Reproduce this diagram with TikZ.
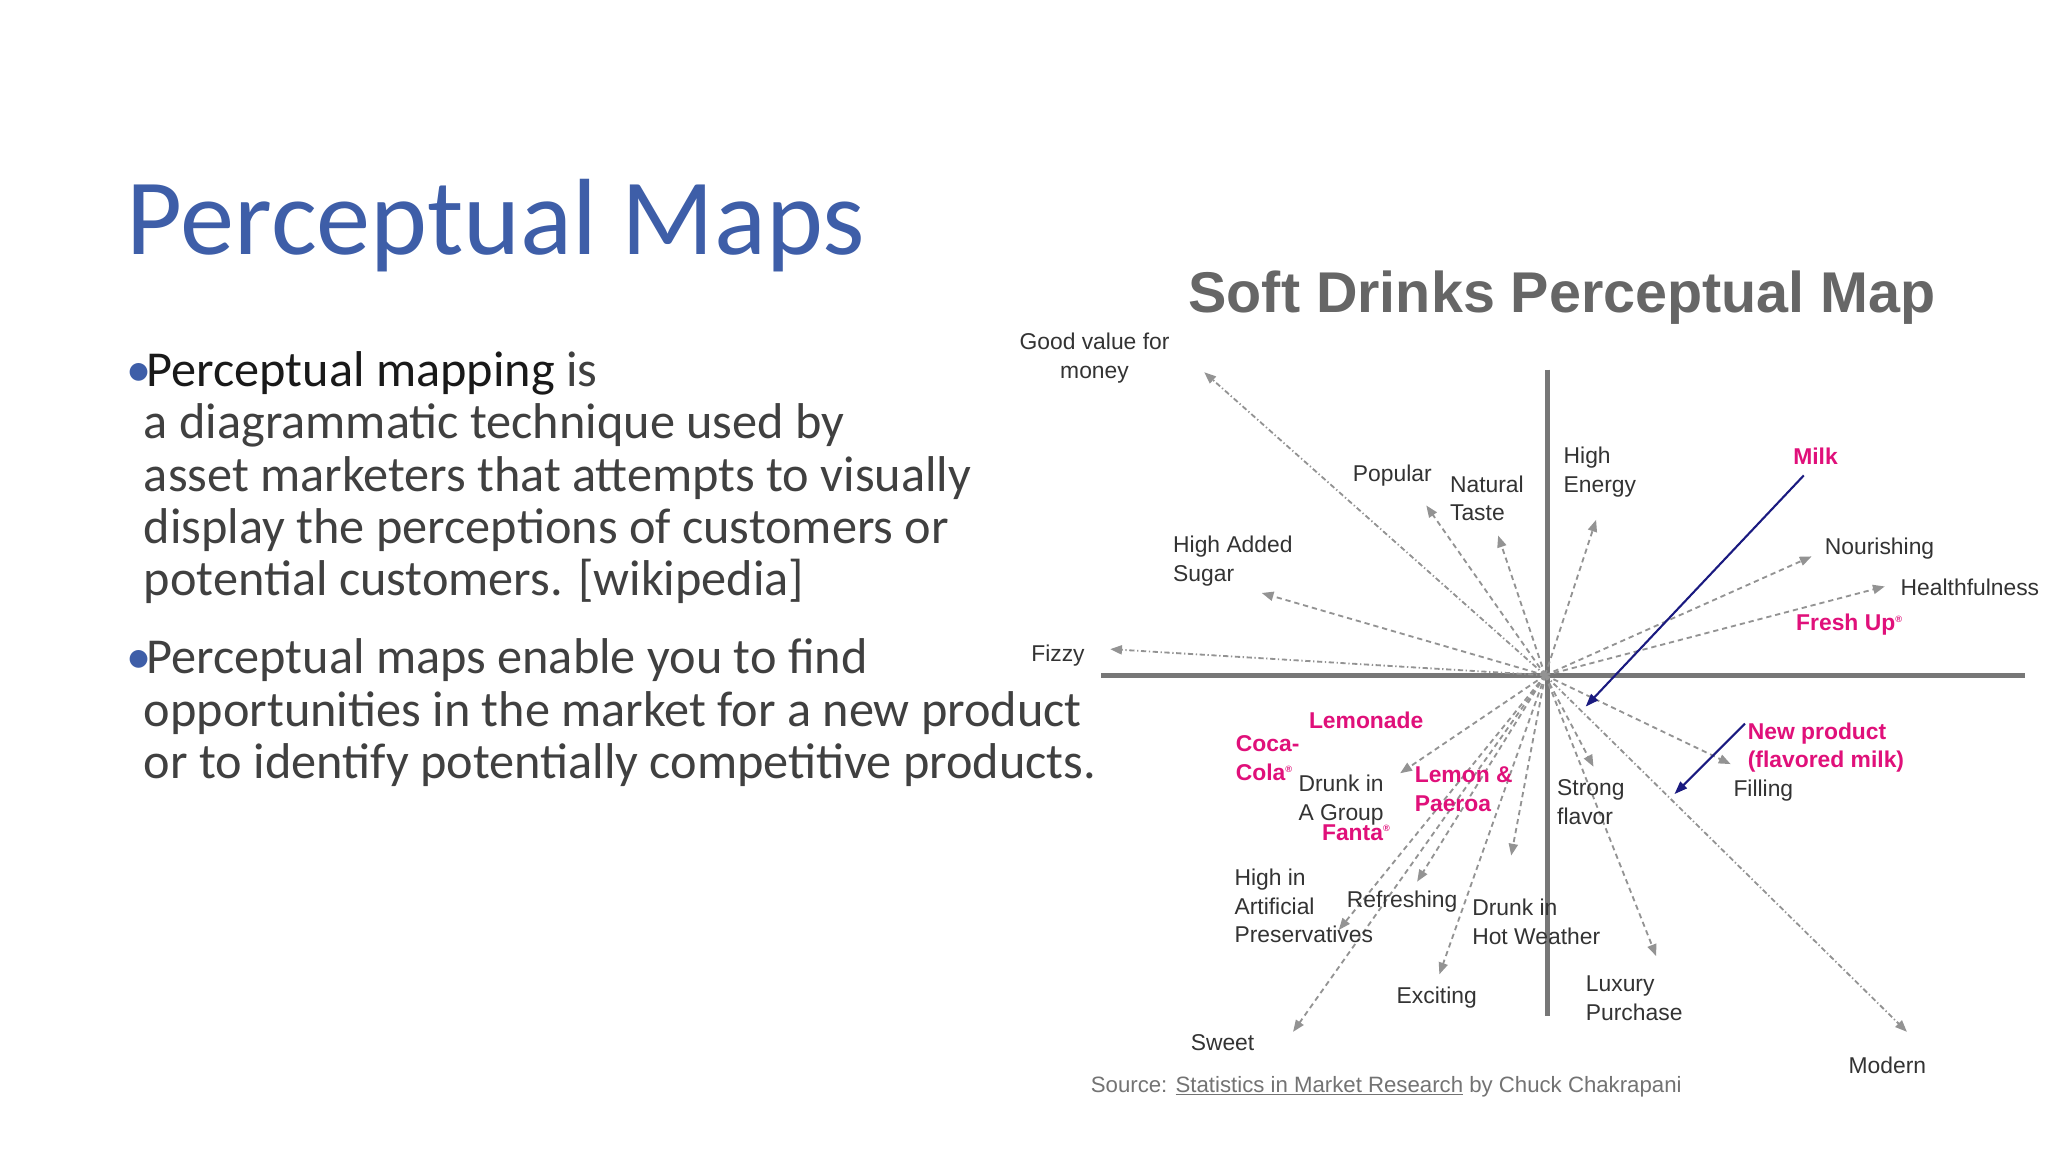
\documentclass[tikz,border=0pt]{standalone}
\usepackage{fontspec}
\setmainfont{Carlito}
\newfontfamily\arial{Liberation Sans}
\usetikzlibrary{arrows.meta}
\definecolor{ttl}{HTML}{3E5EA8}
\definecolor{mag}{HTML}{E0107A}
\definecolor{navy}{HTML}{1A1A80}
\definecolor{ax}{HTML}{777777}
\tikzset{
 vec/.style={draw=gray!85, line width=1.4pt, dash pattern=on 4pt off 3pt, -{Triangle[length=9pt,width=7pt]}},
 vecdd/.style={vec, dash pattern=on 4pt off 2pt on 1pt off 2pt},
 navarr/.style={draw=navy, line width=1.6pt, -{Triangle[length=10pt,width=7pt]}},
 lab/.style={font=\arial\fontsize{17.5}{22}\selectfont, text=black!80, inner sep=0pt, align=left, anchor=north west},
 mlab/.style={lab, text=mag, font=\arial\bfseries\fontsize{17.5}{22}\selectfont},
 body/.style={font=\fontsize{38.5}{40}\selectfont, inner sep=0pt, anchor=base west, text=black!75}
}
\begin{document}
\begin{tikzpicture}[x=1pt,y=-1pt]
\useasboundingbox[fill=white] (0,0) rectangle (1568,882);
\node[font=\fontsize{83}{83}\selectfont, text=ttl, inner sep=0pt, anchor=base west] (title) at (97,195) {Perceptual Maps};
\node[body, text=ttl] (b1) at (97,296) {\textbullet};
\node[body] (t1) at (112,296) {{\color{black!90}Perceptual mapping} is};
\node[body] (t1b) at (110,336) {a diagrammatic technique used by};
\node[body] (t1c) at (110,376) {asset marketers that attempts to visually};
\node[body] (t1d) at (110,416) {display the perceptions of customers or};
\node[body] (t1e) at (110,456) {potential customers. [wikipedia]};
\node[body, text=ttl] (b2) at (97,516) {\textbullet};
\node[body] (t2) at (112,516) {Perceptual maps enable you to find};
\node[body] (t2b) at (110,556) {opportunities in the market for a new product};
\node[body] (t2c) at (110,596) {or to identify potentially competitive products.};
% chart
\node[font=\arial\bfseries\fontsize{44}{46}\selectfont, text=black!60, inner sep=0pt] (ct) at (1196,228) {Soft Drinks Perceptual Map};
\coordinate (L) at (843,517); \coordinate (R) at (1550,517);
\coordinate (T) at (1185,283); \coordinate (B) at (1185,778);
\draw[ax, line width=4pt] (L) -- (R);
\draw[ax, line width=3.5pt] (T) -- (B);
\coordinate (O) at (1183,517);
\foreach \n/\p in {pop/{1092,387},nat/{1147,410},hen/{1222,398},has/{966,454},nou/{1387,426},hea/{1443,449},fil/{1325,585},lux/{1268,732},stf/{1220,587},dhw/{1157,655},exc/{1102,746},ref/{1085,675},hia/{1025,712},swe/{990,790},lem/{1072,592}}
 {\coordinate (\n) at (\p); \draw[vec] (O) -- (\n);}
\foreach \n/\p in {gvm/{922,285},fiz/{850,497},mod/{1460,790}}
 {\coordinate (\n) at (\p); \draw[vecdd] (O) -- (\n);}
\coordinate (mk) at (1381,364); \coordinate (mke) at (1214,541);
\draw[navarr] (mk) -- (mke);
\coordinate (np) at (1336,554); \coordinate (npe) at (1282,608);
\draw[navarr] (np) -- (npe);
\node[lab, align=center, anchor=center] (lgvm) at (838,274) {Good value for\\money};
\node[lab, anchor=center] (lpop) at (1066,364) {Popular};
\node[lab] (lnat) at (1110,364) {Natural\\Taste};
\node[lab] (lhen) at (1197,342) {High\\Energy};
\node[lab] (lhas) at (898,410) {High Added\\Sugar};
\node[lab, anchor=center] (lfiz) at (810,502) {Fizzy};
\node[lab] (lnou) at (1397,412) {Nourishing};
\node[lab] (lhea) at (1455,443) {Healthfulness};
\node[mlab] (lfu) at (1375,470) {Fresh Up\textsuperscript{\scriptsize\textregistered}};
\node[mlab, anchor=center] (lmk) at (1390,349) {Milk};
\node[mlab] (lnp) at (1338,553) {New product\\(flavored milk)};
\node[lab] (lfil) at (1327,597) {Filling};
\node[lab] (lstf) at (1192,597) {Strong\\flavor};
\node[mlab] (llem) at (1002,545) {Lemonade};
\node[mlab] (lcc) at (946,563) {Coca-\\Cola\textsuperscript{\scriptsize\textregistered}};
\node[lab] (ldg) at (994,593) {Drunk in\\A Group};
\node[mlab] (lfa) at (1012,631) {Fanta\textsuperscript{\scriptsize\textregistered}};
\node[mlab] (llp) at (1083,587) {Lemon \&\\Paeroa};
\node[lab] (lhia) at (945,665) {High in\\Artificial\\Preservatives};
\node[lab] (lref) at (1031,682) {Refreshing};
\node[lab] (ldhw) at (1127,688) {Drunk in\\Hot Weather};
\node[lab, anchor=center] (lexc) at (1100,764) {Exciting};
\node[lab] (llux) at (1214,747) {Luxury\\Purchase};
\node[lab, anchor=center] (lswe) at (936,798) {Sweet};
\node[lab, anchor=center] (lmod) at (1445,816) {Modern};
\node[lab, text=black!55, font=\arial\fontsize{17}{20}\selectfont, anchor=west] (src) at (835,832) {Source: \underline{Statistics in Market Research} by Chuck Chakrapani};
\end{tikzpicture}
\end{document}
